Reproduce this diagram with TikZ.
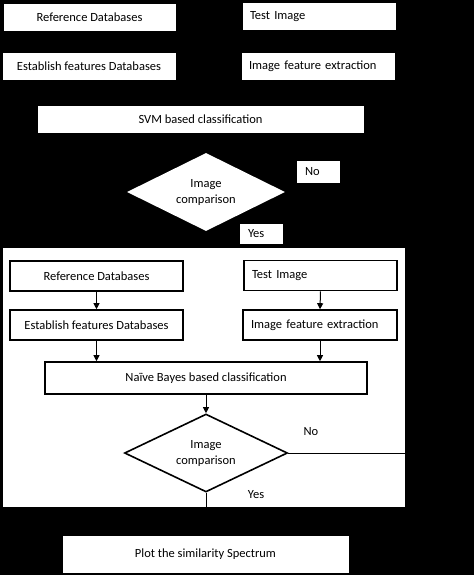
\documentclass[tikz,border=0pt]{standalone}
\usepackage{fontspec}
\setmainfont{Carlito}
\usetikzlibrary{shapes.geometric,arrows.meta}
\begin{document}
\begin{tikzpicture}[x=1pt,y=-1pt,
  every node/.style={font=\fontsize{12.5}{16}\selectfont, inner sep=0pt},
  topbox/.style={fill=white, draw=black, minimum height=28pt},
  panelbox/.style={fill=white, draw=black, line width=1.6pt, minimum height=30pt},
  lefttext/.style={text width=#1, align=left},
  decision/.style={diamond, fill=white, draw=black, aspect=2, minimum width=158pt, minimum height=78pt, align=center},
  arr/.style={draw=black, line width=1pt, -{Triangle[length=6pt,width=6pt]}},
  plain/.style={draw=black, line width=1pt}
]
\useasboundingbox (0,0) rectangle (474,575);
\fill[black] (0,0) rectangle (474,575);

% top part (white shapes on black)
\node[topbox, minimum width=173pt] (ref1) at (89.5,17) {Reference Databases};
\node[topbox, minimum width=154pt, lefttext=138pt] (test1) at (319,16.5) {Test Image};
\node[topbox, minimum width=174pt] (est1) at (89,66) {Establish features Databases};
\node[topbox, minimum width=154pt, lefttext=138pt] (ife1) at (318,66.5) {Image feature extraction};
\node[topbox, minimum width=327pt] (svm) at (200.5,119) {SVM based classification};
\node[decision, draw=none] (d1) at (206,192) {Image\\comparison};
\node[topbox, minimum width=44pt, minimum height=23pt, lefttext=26pt] (no1) at (318,172) {No};
\node[topbox, minimum width=44pt, minimum height=21pt, lefttext=26pt] (yes1) at (261,234) {Yes};

% lower panel
\node[fill=white, minimum width=402pt, minimum height=259pt] (panel) at (204,377.5) {};
\node[panelbox, minimum width=173pt] (ref2) at (96.5,276) {Reference Databases};
\node[panelbox, minimum width=153pt, lefttext=137pt] (test2) at (320.5,275.5) {Test Image};
\node[panelbox, minimum width=173pt] (est2) at (96.5,325) {Establish features Databases};
\node[panelbox, minimum width=154pt, lefttext=138pt] (ife2) at (320,325) {Image feature extraction};
\node[panelbox, minimum width=322pt, minimum height=32pt] (naive) at (206,378) {Naïve Bayes based classification};
\node[decision, line width=1.6pt, minimum width=163pt] (d2) at (206,453) {Image\\comparison};

\draw[arr] (ref2.south) -- (est2.north);
\draw[arr] (test2.south) -- (ife2.north);
\draw[arr] (est2.south) -- (est2.south |- naive.north);
\draw[arr] (ife2.south) -- (ife2.south |- naive.north);
\draw[arr] (naive.south) -- (d2.north);
\draw[plain] (d2.east) -- (d2.east -| panel.east);
\draw[plain] (d2.south) -- (d2.south |- panel.south);
\node (nolbl) at (311,432) {No};
\node (yeslbl) at (256,495) {Yes};

% bottom box
\node[topbox, minimum width=287pt, minimum height=38pt] (plot) at (205.5,554) {Plot the similarity Spectrum};
\end{tikzpicture}
\end{document}
